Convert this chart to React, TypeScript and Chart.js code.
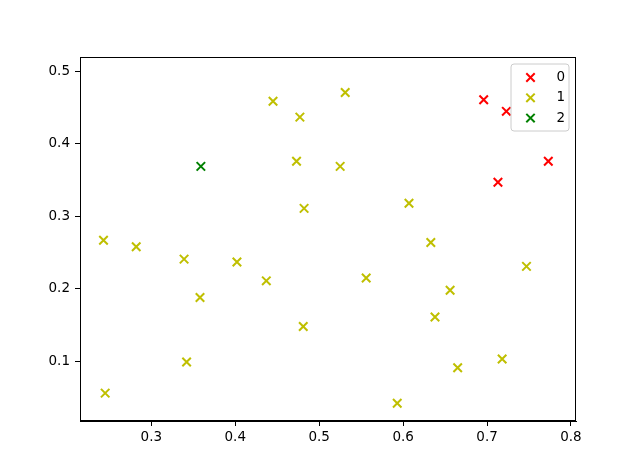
import React, { useEffect, useRef } from "react";
import { Chart, registerables } from "chart.js";

Chart.register(...registerables);

const seriesLabels = ["0", "1", "2"];
const seriesColors = ["#ff0000", "#bfbf00", "#008000"];

const class0X = [0.696, 0.723, 0.773, 0.713];
const class0Y = [0.461, 0.445, 0.376, 0.347];

const class1X = [
  0.243, 0.282, 0.339, 0.402, 0.358, 0.342, 0.245, 0.445, 0.531, 0.477, 0.473, 0.525,
  0.482, 0.607, 0.437, 0.556, 0.633, 0.747, 0.656, 0.638, 0.481, 0.718, 0.665, 0.593,
];
const class1Y = [
  0.267, 0.258, 0.241, 0.237, 0.188, 0.099, 0.056, 0.459, 0.471, 0.437, 0.376, 0.369,
  0.311, 0.318, 0.211, 0.215, 0.264, 0.231, 0.198, 0.161, 0.148, 0.103, 0.091, 0.042,
];

const class2X = [0.359];
const class2Y = [0.369];

const xTicks = [0.3, 0.4, 0.5, 0.6, 0.7, 0.8];
const yTicks = [0.1, 0.2, 0.3, 0.4, 0.5];

const xMin = 0.215;
const xMax = 0.806;
const yMin = 0.0175;
const yMax = 0.52;

const FONT = "'DejaVu Sans', sans-serif";

function toPoints(xs: number[], ys: number[]) {
  return xs.map((x, i) => ({ x, y: ys[i] }));
}

const framePlugin = {
  id: "frame",
  afterDraw(chart: any) {
    const { ctx, chartArea } = chart;
    const l = Math.round(chartArea.left) + 0.5;
    const t = Math.round(chartArea.top) + 0.5;
    const r = Math.round(chartArea.right) - 0.5;
    const b = Math.round(chartArea.bottom) - 0.5;
    ctx.save();
    ctx.strokeStyle = "#000";
    ctx.lineWidth = 1;
    ctx.strokeRect(l, t, r - l, b - t);
    ctx.restore();
  },
};

const legendPlugin = {
  id: "insideLegend",
  afterDraw(chart: any) {
    const { ctx, chartArea } = chart;
    const ds = chart.data.datasets;
    const boxW = 58;
    const boxH = 67;
    const x = chartArea.right - 7 - boxW;
    const y = chartArea.top + 7;
    const rad = 3;
    ctx.save();
    ctx.beginPath();
    ctx.moveTo(x + rad, y);
    ctx.lineTo(x + boxW - rad, y);
    ctx.quadraticCurveTo(x + boxW, y, x + boxW, y + rad);
    ctx.lineTo(x + boxW, y + boxH - rad);
    ctx.quadraticCurveTo(x + boxW, y + boxH, x + boxW - rad, y + boxH);
    ctx.lineTo(x + rad, y + boxH);
    ctx.quadraticCurveTo(x, y + boxH, x, y + boxH - rad);
    ctx.lineTo(x, y + rad);
    ctx.quadraticCurveTo(x, y, x + rad, y);
    ctx.closePath();
    ctx.fillStyle = "rgba(255,255,255,0.8)";
    ctx.fill();
    ctx.strokeStyle = "#cccccc";
    ctx.lineWidth = 1;
    ctx.stroke();
    ctx.font = `13.5px ${FONT}`;
    ctx.textBaseline = "middle";
    ctx.textAlign = "left";
    ds.forEach((d: any, i: number) => {
      const cy = y + 13.5 + i * 20.3;
      const cx = x + 19.5;
      const s = 4.2;
      ctx.strokeStyle = d.borderColor;
      ctx.lineWidth = 2;
      ctx.beginPath();
      ctx.moveTo(cx - s, cy - s);
      ctx.lineTo(cx + s, cy + s);
      ctx.moveTo(cx - s, cy + s);
      ctx.lineTo(cx + s, cy - s);
      ctx.stroke();
      ctx.fillStyle = "#000";
      ctx.fillText(d.label, x + 45.5, cy);
    });
    ctx.restore();
  },
};

export default function App() {
  const ref = useRef<HTMLCanvasElement | null>(null);

  useEffect(() => {
    if (!ref.current) return;
    const xs = [class0X, class1X, class2X];
    const ys = [class0Y, class1Y, class2Y];
    const chart = new Chart(ref.current, {
      type: "scatter",
      data: {
        datasets: seriesLabels.map((label, i) => ({
          label,
          data: toPoints(xs[i], ys[i]),
          pointStyle: "crossRot",
          pointRadius: 6,
          pointHoverRadius: 6,
          pointBorderWidth: 2,
          borderColor: seriesColors[i],
          backgroundColor: seriesColors[i],
        })),
      },
      options: {
        animation: false,
        responsive: false,
        maintainAspectRatio: false,
        layout: { padding: { left: 0, top: 57, right: 64, bottom: 0 } },
        plugins: {
          legend: { display: false },
          tooltip: { enabled: false },
        },
        scales: {
          x: {
            type: "linear",
            min: xMin,
            max: xMax,
            afterBuildTicks: (s: any) => {
              s.ticks = xTicks.map((v) => ({ value: v }));
            },
            afterFit: (s: any) => {
              s.height = 52;
            },
            grid: {
              drawOnChartArea: false,
              drawTicks: true,
              tickLength: 5,
              tickColor: "#000",
              tickWidth: 1,
            },
            border: { display: true, color: "#000", width: 1 },
            ticks: {
              color: "#000",
              font: { family: FONT, size: 13.5 },
              padding: 3,
              maxRotation: 0,
              callback: (v: any) => Number(v).toFixed(1),
            },
          },
          y: {
            type: "linear",
            min: yMin,
            max: yMax,
            afterBuildTicks: (s: any) => {
              s.ticks = yTicks.map((v) => ({ value: v }));
            },
            afterFit: (s: any) => {
              s.width = 80;
            },
            grid: {
              drawOnChartArea: false,
              drawTicks: true,
              tickLength: 5,
              tickColor: "#000",
              tickWidth: 1,
            },
            border: { display: true, color: "#000", width: 1 },
            ticks: {
              color: "#000",
              font: { family: FONT, size: 13.5 },
              padding: 5,
              callback: (v: any) => Number(v).toFixed(1),
            },
          },
        },
      },
      plugins: [framePlugin, legendPlugin],
    });
    return () => chart.destroy();
  }, []);

  return (
    <div style={{ position: "absolute", left: 0, top: 0, width: 640, height: 473, background: "#fff" }}>
      <canvas ref={ref} width={640} height={473} style={{ display: "block" }} />
    </div>
  );
}
